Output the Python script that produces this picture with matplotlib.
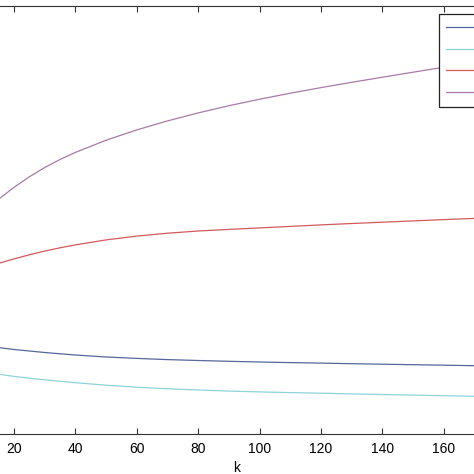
import numpy as np
import matplotlib
matplotlib.use("Agg")
import matplotlib.pyplot as plt

plt.rcParams['font.family'] = ['Liberation Sans', 'DejaVu Sans']

# values (y axis labels are cropped away, units arbitrary)
k = [15.4, 20, 25, 30, 35, 40, 50, 60, 70, 80, 90, 100, 110, 120, 130, 140, 150, 160, 170]
s1 = [86.3, 84.5, 83.0, 81.5, 80.2, 79.0, 77.0, 75.6, 74.4, 73.5, 72.7, 72.0, 71.4, 70.9,
      70.3, 69.8, 69.3, 68.8, 68.3]
s2 = [59.7, 57.6, 55.8, 54.2, 52.7, 51.3, 48.8, 46.8, 45.2, 44.0, 42.9, 42.1, 41.4, 40.8,
      40.1, 39.5, 38.9, 38.3, 37.7]
s3 = [171, 175.1, 179.2, 182.9, 186.2, 189.1, 194.1, 197.9, 200.8, 203.0, 204.6, 206.1,
      207.6, 209.1, 210.5, 211.8, 213.1, 214.4, 215.6]
s4 = [235.7, 246.7, 257.2, 266.5, 274.5, 281.6, 293.8, 304.1, 313.1, 321.1, 328.3, 334.8,
      340.8, 346.4, 351.7, 356.8, 361.8, 366.8, 371.6]
labels = ['series 1', 'series 2', 'series 3', 'series 4']
colors = ['#56679c', '#8fd4d8', '#d15a5a', '#a77ba8']
xticks = [20, 40, 60, 80, 100, 120, 140, 160]

fig = plt.figure(figsize=(4.74, 4.74), dpi=100)
ax = fig.add_axes([0, 1 - 434 / 474, 1, 428 / 474])

for ys, lab, c in zip([s1, s2, s3, s4], labels, colors):
    ax.plot(k, ys, color=c, lw=0.9, label=lab)

ax.set_xlim(15.44, 169.8)
ax.set_ylim(0, 428)
ax.set_xticks(xticks)
ax.set_yticks([])
ax.tick_params(axis='x', direction='in', length=4, width=0.8, top=True,
               labelsize=10, colors='#333333', labelcolor='black', pad=5.5)
for side in ['left', 'right']:
    ax.spines[side].set_visible(False)
for side in ['top', 'bottom']:
    ax.spines[side].set_linewidth(0.8)
    ax.spines[side].set_color('#333333')
ax.set_xlabel('k', fontsize=10, labelpad=3.5)

# legend sits partly outside the crop, as in the reference
leg = ax.legend(loc='upper left', bbox_to_anchor=(438.7 / 474, 1 - 14 / 474),
                bbox_transform=fig.transFigure, borderaxespad=0, fancybox=False,
                framealpha=1, fontsize=10, borderpad=0.5, labelspacing=0.55,
                handlelength=3, edgecolor='#222222')
leg.get_frame().set_linewidth(0.9)

fig.savefig('out.png', dpi=100)
